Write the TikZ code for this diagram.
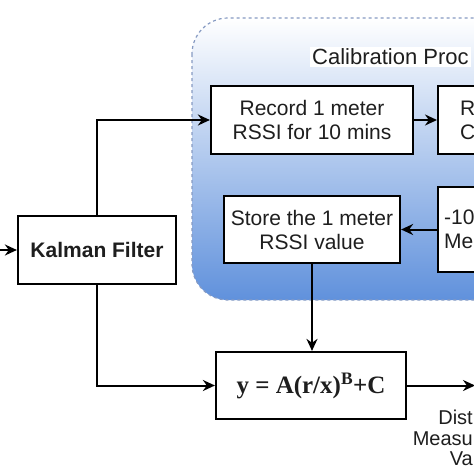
\documentclass[tikz,border=0pt]{standalone}
\usepackage{fontspec}
\setmainfont{Liberation Sans}
\newfontfamily\formulafont{Liberation Serif}
\usetikzlibrary{arrows.meta}

\definecolor{calibblue}{RGB}{96,145,220}
\definecolor{calibedge}{RGB}{135,155,195}
\definecolor{inktext}{RGB}{30,30,30}

\tikzset{
  blockbox/.style={draw=black, line width=2.2pt, fill=white, align=center,
    text=inktext, font=\fontsize{21}{24}\selectfont},
  flow/.style={line width=2pt, -{Stealth[length=12pt,width=11pt]}},
}

\begin{document}
\begin{tikzpicture}[x=1pt,y=-1pt]
  \useasboundingbox (0,0) rectangle (474,474);
  \clip (0,0) rectangle (474,474);
  \fill[white] (0,0) rectangle (474,474);

  % calibration region
  \shade[top color=white, bottom color=calibblue, rounded corners=36pt]
    (192,18) rectangle (560,300);
  \draw[calibedge, line width=1.2pt, dash pattern=on 3pt off 3pt, rounded corners=36pt]
    (192,18) rectangle (560,300);
  \node[fill=white, anchor=west, inner sep=2pt, text=inktext,
    font=\fontsize{22}{24}\selectfont] (calibtitle) at (310,57) {Calibration Proc};

  \node[blockbox, minimum width=158pt, minimum height=68pt] (kalman) at (97,250)
    {\textbf{Kalman Filter}};
  \node[blockbox, minimum width=202pt, minimum height=68pt] (record) at (312,120)
    {Record 1 meter\\RSSI for 10 mins};
  \node[blockbox, anchor=west, minimum height=68pt, align=left, text width=80pt,
    inner xsep=22pt] (remove) at (437,120) {R\\C};
  \node[blockbox, minimum width=176pt, minimum height=67pt] (store) at (312,229.5)
    {Store the 1 meter\\RSSI value};
  \node[blockbox, anchor=west, minimum height=85pt, align=left, text width=80pt,
    inner xsep=6pt] (measure) at (437,229.5) {-10\\Me};
  \node[blockbox, minimum width=190pt, minimum height=67pt] (formula) at (311,385.5)
    {\formulafont\fontsize{25}{28}\selectfont\bfseries y = A(r/x)\textsuperscript{B}+C};
  \node[anchor=north east, align=right, inner sep=0pt, text=inktext,
    font=\fontsize{20}{20.5}\selectfont] (distance) at (473,410)
    {Dist\\Measu\\Va};

  \coordinate (input) at (0,250);
  \coordinate (output) at (475,385.5);

  \draw[flow] (input) -- (kalman.west);
  \draw[flow] (kalman.north) |- (record.west);
  \draw[flow] (kalman.south) |- (formula.west);
  \draw[flow] (record.east) -- (remove.west);
  \draw[flow] (measure.west) -- (store.east);
  \draw[flow] (store.south) -- (store.south |- formula.north);
  \draw[flow] (formula.east) -- (output);
\end{tikzpicture}
\end{document}
